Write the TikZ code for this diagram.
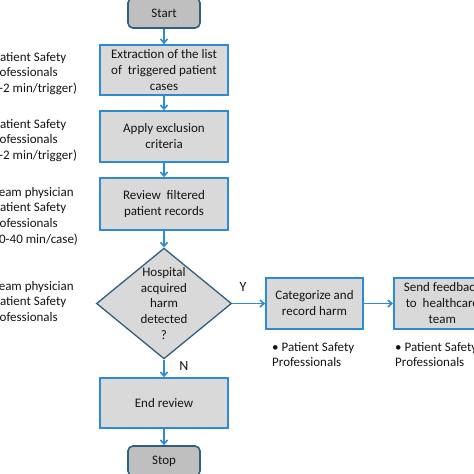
\documentclass[tikz,border=0pt]{standalone}
\usepackage{fontspec}
\setmainfont{Carlito}
\usetikzlibrary{shapes.geometric,arrows.meta}
\definecolor{boxblue}{HTML}{2E8BCF}
\definecolor{darkedge}{HTML}{2F5F80}
\definecolor{boxfill}{HTML}{D9D9D9}
\definecolor{termfill}{HTML}{BFBFBF}
\definecolor{txt}{HTML}{141414}
\newlength\bulw
\newcommand\hind{\hspace*{\dimexpr\bulw-5pt\relax}}
\tikzset{
  procbox/.style={draw=boxblue, line width=1.6pt, fill=boxfill, minimum width=128pt, align=center, font=\fontsize{13}{16}\selectfont, text=txt, inner sep=1pt},
  termbox/.style={draw=darkedge, line width=1.6pt, fill=termfill, rounded corners=5pt, minimum width=72pt, minimum height=30pt, font=\fontsize{13}{16}\selectfont, text=txt},
  decbox/.style={draw=darkedge, line width=1.3pt, fill=boxfill, diamond, aspect=1.22, minimum width=128pt, minimum height=105pt, inner sep=0pt, align=center, font=\fontsize{13}{15.8}\selectfont, text=txt},
  flow/.style={draw=boxblue, line width=1.6pt, -{Straight Barb[length=4pt,width=7pt,line width=1.6pt]}},
  sidetxt/.style={anchor=north west, align=left, font=\fontsize{13}{15.7}\selectfont\settowidth\bulw{\textbullet{} }, text=txt, inner sep=0pt},
  lbl/.style={font=\fontsize{14}{15}\selectfont, text=txt}
}
\begin{document}
\begin{tikzpicture}[x=1pt,y=-1pt]
\useasboundingbox (0,0) rectangle (474,474);
\begin{scope}
\clip (0,0) rectangle (474,474);
\node[termbox] (start) at (164,13) {Start};
\node[procbox, minimum height=50pt] (extr) at (164,70) {Extraction of the list\\of~~triggered patient\\cases};
\node[procbox, minimum height=51pt] (excl) at (164,136.5) {Apply exclusion\\criteria};
\node[procbox, minimum height=52pt] (rev) at (164,204) {Review~~filtered\\patient records};
\node[decbox] (dec) at (164,303.5) {Hospital\\acquired\\harm\\detected\\?};
\node[procbox, minimum height=50pt] (endr) at (164,403) {End review};
\node[termbox] (stop) at (164,461) {Stop};
\node[procbox, minimum width=97pt, minimum height=51pt] (cat) at (314.5,303.5) {Categorize and\\record harm};
\node[procbox, minimum width=97pt, minimum height=51pt, anchor=west] (send) at (393,303.5) {Send feedback\\to~~healthcare\\team};
\draw[flow] (start) -- (extr);
\draw[flow] (extr) -- (excl);
\draw[flow] (excl) -- (rev);
\draw[flow] (rev) -- (dec.north);
\draw[flow] (dec.south) -- (endr);
\draw[flow] (endr) -- (stop);
\draw[flow] (dec.east) -- (cat);
\draw[flow] (cat) -- (send);
\node[lbl] (ylab) at (243,287) {Y};
\node[lbl] (nlab) at (184,366) {N};
\node[sidetxt] (catres) at (272,342) {\textbullet{} Patient Safety\\Professionals};
\node[sidetxt] (sendres) at (395,342) {\textbullet{} Patient Safety\\Professionals};
\node[sidetxt] (res1) at (-16,52) {\textbullet{} Patient Safety\\\hind Professionals\\\hind (1-2 min/trigger)};
\node[sidetxt] (res2) at (-16,119) {\textbullet{} Patient Safety\\\hind Professionals\\\hind (1-2 min/trigger)};
\node[sidetxt] (res3) at (-16,187) {\textbullet{} Team physician\\\textbullet{} Patient Safety\\\hind Professionals\\\hind (20-40 min/case)};
\node[sidetxt] (res4) at (-16,281) {\textbullet{} Team physician\\\textbullet{} Patient Safety\\\hind Professionals};
\end{scope}
\end{tikzpicture}
\end{document}
